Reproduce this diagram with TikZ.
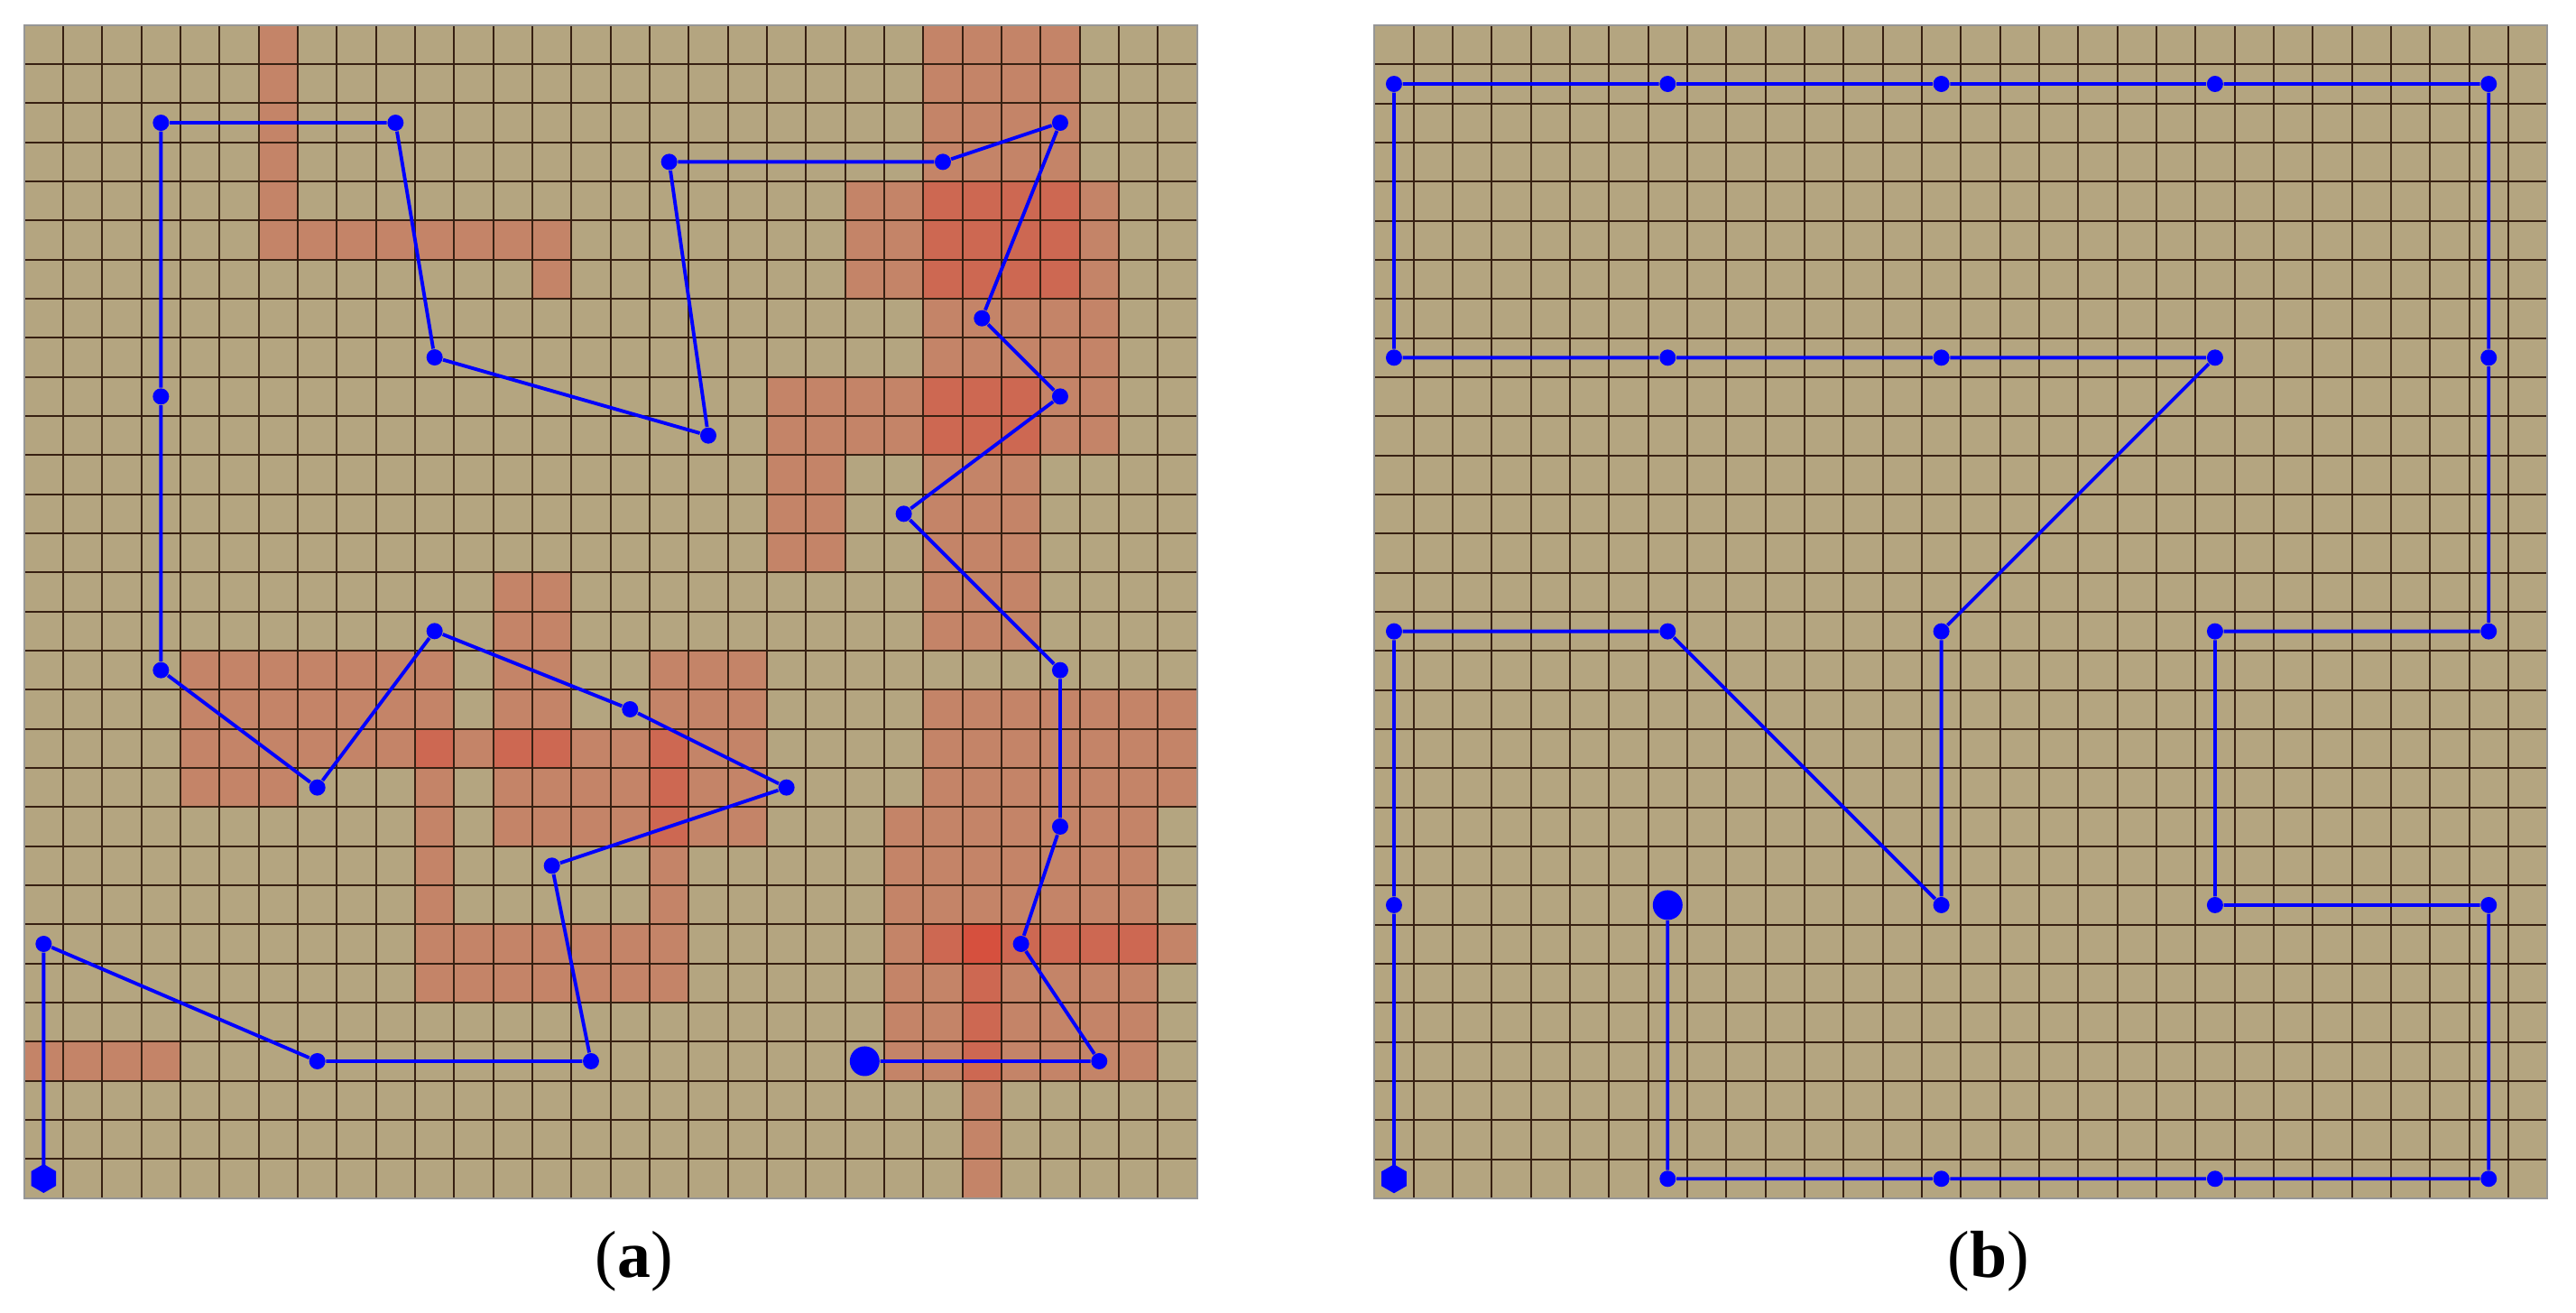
\documentclass[tikz,border=0pt]{standalone}
\usepackage{fontspec}
\setmainfont{Liberation Serif}
\definecolor{cellbg}{RGB}{180,165,128}
\definecolor{redA}{RGB}{196,132,104}
\definecolor{redB}{RGB}{205,104,82}
\definecolor{redC}{RGB}{214,80,62}
\definecolor{gridc}{RGB}{55,32,18}
\definecolor{framec}{RGB}{150,150,150}
\definecolor{pblue}{RGB}{0,0,255}
\begin{document}
\begin{tikzpicture}
\tikzset{
 pathln/.style={draw=pblue, line width=1.1pt},
 vdot/.style={circle, fill=pblue, inner sep=0pt, minimum size=0.18cm},
 bigdot/.style={circle, fill=pblue, inner sep=0pt, minimum size=0.33cm},
 hexanchor/.style={circle, inner sep=0pt, minimum size=0.28cm},
 lvla/.style={fill=redA}, lvlb/.style={fill=redB}, lvlc/.style={fill=redC},
 gridln/.style={draw=gridc, line width=0.55pt},
 framest/.style={draw=framec, line width=0.5pt},
 lbl/.style={font=\fontsize{21}{24}\selectfont, inner sep=0pt, anchor=base},
}
\useasboundingbox (0,0) rectangle (28.55,-14.54);

% ---------------- panel (a) ----------------
\begin{scope}[shift={(0.267,-0.277)}, x=0.4333cm, y=-0.4333cm]
 \fill[cellbg] (0,0) rectangle (30,30);
 % level 1
 \fill[lvla] (6,0) rectangle (7,5);
 \fill[lvla] (6,5) rectangle (14,6);
 \fill[lvla] (13,6) rectangle (14,7);
 \fill[lvla] (23,0) rectangle (27,4);
 \fill[lvla] (21,4) rectangle (28,7);
 \fill[lvla] (23,7) rectangle (28,9);
 \fill[lvla] (19,9) rectangle (28,11);
 \fill[lvla] (19,11) rectangle (21,14);
 \fill[lvla] (23,11) rectangle (26,16);
 \fill[lvla] (12,14) rectangle (14,18);
 \fill[lvla] (4,16) rectangle (11,18);
 \fill[lvla] (16,16) rectangle (19,18);
 \fill[lvla] (4,18) rectangle (19,19);
 \fill[lvla] (4,19) rectangle (7,20);
 \fill[lvla] (10,19) rectangle (11,23);
 \fill[lvla] (12,19) rectangle (19,21);
 \fill[lvla] (16,21) rectangle (17,23);
 \fill[lvla] (10,23) rectangle (17,25);
 \fill[lvla] (0,26) rectangle (4,27);
 \fill[lvla] (23,17) rectangle (30,20);
 \fill[lvla] (22,20) rectangle (29,27);
 \fill[lvla] (29,23) rectangle (30,24);
 \fill[lvla] (24,27) rectangle (25,30);
 % level 2
 \fill[lvlb] (23,4) rectangle (27,7);
 \fill[lvlb] (23,9) rectangle (26,11);
 \fill[lvlb] (10,18) rectangle (11,19);
 \fill[lvlb] (12,18) rectangle (14,19);
 \fill[lvlb] (16,18) rectangle (17,21);
 \fill[lvlb] (23,23) rectangle (24,24);
 \fill[lvlb] (25,23) rectangle (29,24);
 \fill[lvlb] (24,24) rectangle (25,27);
 % level 3
 \fill[lvlc] (24,23) rectangle (25,24);
 % grid
 \foreach \i in {1,...,29} {
   \draw[gridln] (\i,0) -- (\i,30);
   \draw[gridln] (0,\i) -- (30,\i);
 }
 \draw[framest] (0,0) rectangle (30,30);
 % vertices
 \node[hexanchor] (a0) at (0.5,29.5) {};
 \foreach \n/\c/\r in {a1/0/23, a2/7/26, a3/14/26, a4/13/21, a5/19/19, a6/15/17,
   a7/10/15, a8/7/19, a9/3/16, a10/3/9, a11/3/2, a12/9/2, a13/10/8, a14/17/10,
   a15/16/3, a16/23/3, a17/26/2, a18/24/7, a19/26/9, a20/22/12, a21/26/16,
   a22/26/20, a23/25/23, a24/27/26}
   \node[vdot] (\n) at (\c+0.5,\r+0.5) {};
 \node[bigdot] (a25) at (21.5,26.5) {};
 \draw[pathln] (a0.center) -- (a1) -- (a2) -- (a3) -- (a4) -- (a5) -- (a6) -- (a7)
   -- (a8) -- (a9) -- (a10) -- (a11) -- (a12) -- (a13) -- (a14) -- (a15) -- (a16)
   -- (a17) -- (a18) -- (a19) -- (a20) -- (a21) -- (a22) -- (a23) -- (a24) -- (a25);
 \fill[pblue] (a0.center) +(90:0.16cm) -- +(150:0.16cm) -- +(210:0.16cm)
   -- +(270:0.16cm) -- +(330:0.16cm) -- +(30:0.16cm) -- cycle;
\end{scope}

% ---------------- panel (b) ----------------
\begin{scope}[shift={(15.233,-0.28)}, x=0.4333cm, y=-0.4333cm]
 \fill[cellbg] (0,0) rectangle (30,30);
 \foreach \i in {1,...,29} {
   \draw[gridln] (\i,0) -- (\i,30);
   \draw[gridln] (0,\i) -- (30,\i);
 }
 \draw[framest] (0,0) rectangle (30,30);
 \node[hexanchor] (b0) at (0.5,29.5) {};
 \foreach \n/\c/\r in {b1/0/22, b2/0/15, b3/7/15, b4/14/22, b5/14/15, b6/21/8,
   b7/14/8, b8/7/8, b9/0/8, b10/0/1, b11/7/1, b12/14/1, b13/21/1, b14/28/1,
   b15/28/8, b16/28/15, b17/21/15, b18/21/22, b19/28/22, b20/28/29, b21/21/29,
   b22/14/29, b23/7/29}
   \node[vdot] (\n) at (\c+0.5,\r+0.5) {};
 \node[bigdot] (b24) at (7.5,22.5) {};
 \draw[pathln] (b0.center) -- (b1) -- (b2) -- (b3) -- (b4) -- (b5) -- (b6) -- (b7)
   -- (b8) -- (b9) -- (b10) -- (b11) -- (b12) -- (b13) -- (b14) -- (b15) -- (b16)
   -- (b17) -- (b18) -- (b19) -- (b20) -- (b21) -- (b22) -- (b23) -- (b24);
 \fill[pblue] (b0.center) +(90:0.16cm) -- +(150:0.16cm) -- +(210:0.16cm)
   -- +(270:0.16cm) -- +(330:0.16cm) -- +(30:0.16cm) -- cycle;
\end{scope}

\node[lbl] (la) at (7.03,-14.15) {(\textbf{a})};
\node[lbl] (lb) at (22.04,-14.15) {(\textbf{b})};
\end{tikzpicture}
\end{document}
